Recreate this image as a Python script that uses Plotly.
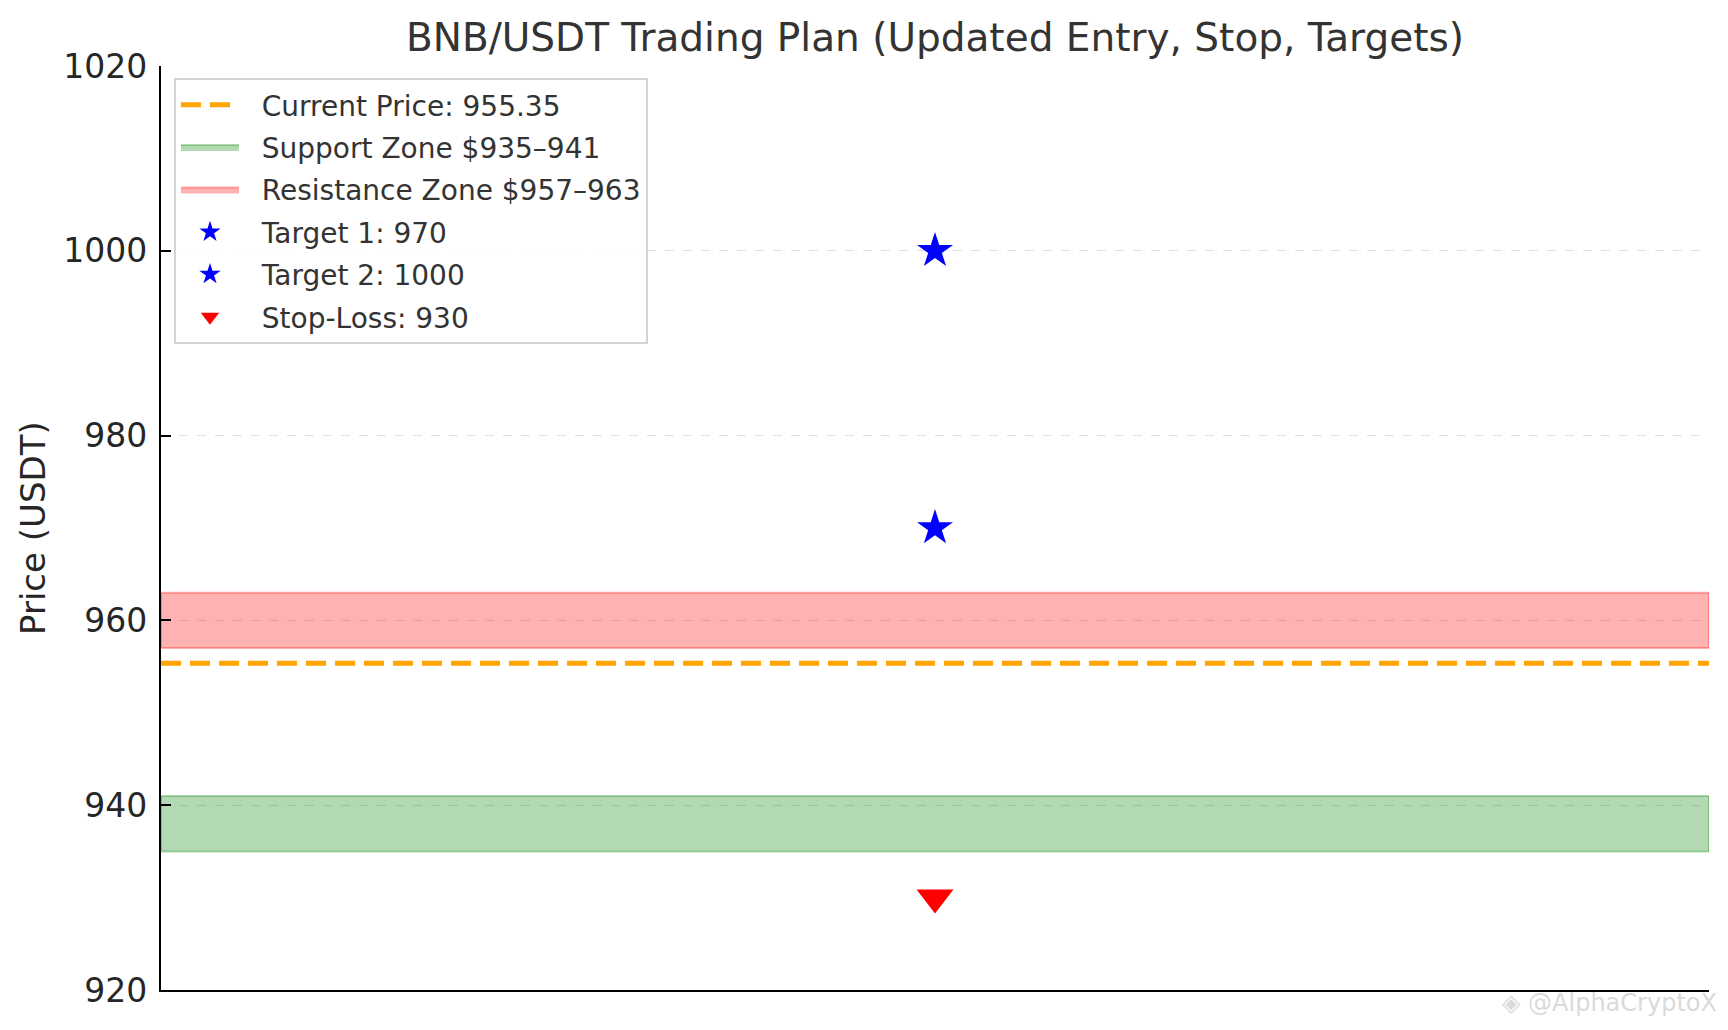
import plotly.graph_objects as go

# ---- data ----
current_price = 955.35
support_zone = [935, 941]
resistance_zone = [957, 963]
target_names = ["Target 1: 970", "Target 2: 1000"]
target_values = [970, 1000]
stop_loss = 930
y_ticks = [920, 940, 960, 980, 1000, 1020]

# figure sized to fit the page (browser adds an 8px body margin)
W, H = 1720, 1022
L, R, T, B = 153, 19, 58, 40
PW, PH = W - L - R, H - T - B
TXT = "#262626"
FONT = "DejaVu Sans"
PAD = "\u00a0\u00a0"  # spacing between legend glyph and text

fig = go.Figure()

# current price line
fig.add_trace(go.Scatter(
    x=[-1, 1], y=[current_price, current_price], mode="lines",
    line=dict(color="#FFA500", width=5, dash="20px,9px"),
    name=PAD + f"Current Price: {current_price}", legendgroup="g1"))

# support zone
fig.add_trace(go.Scatter(
    x=[-1, 1, 1, -1, -1],
    y=[support_zone[0], support_zone[0], support_zone[1], support_zone[1], support_zone[0]],
    mode="lines", fill="toself", fillcolor="rgba(0,128,0,0.3)",
    line=dict(color="rgba(0,128,0,0.3)", width=2),
    name=PAD + f"Support Zone ${support_zone[0]}–{support_zone[1]}", legendgroup="g2"))

# resistance zone
fig.add_trace(go.Scatter(
    x=[-1, 1, 1, -1, -1],
    y=[resistance_zone[0], resistance_zone[0], resistance_zone[1], resistance_zone[1], resistance_zone[0]],
    mode="lines", fill="toself", fillcolor="rgba(255,0,0,0.3)",
    line=dict(color="rgba(255,0,0,0.3)", width=2),
    name=PAD + f"Resistance Zone ${resistance_zone[0]}–{resistance_zone[1]}", legendgroup="g3"))

# targets
for i, (nm, v) in enumerate(zip(target_names, target_values)):
    fig.add_trace(go.Scatter(
        x=[0], y=[v], mode="markers",
        marker=dict(symbol="star", size=27, color="#0000FF"),
        name=PAD + nm, legendgroup=f"t{i}"))

# stop loss
fig.add_trace(go.Scatter(
    x=[0], y=[stop_loss], mode="markers",
    marker=dict(symbol="triangle-down", size=32, color="#FF0000"),
    name=PAD + f"Stop-Loss: {stop_loss}", legendgroup="sl"))

fig.update_layout(
    width=W, height=H,
    margin=dict(l=L, r=R, t=T, b=B, autoexpand=False),
    plot_bgcolor="white", paper_bgcolor="white",
    font=dict(family=FONT, color=TXT),
    title=dict(text="BNB/USDT Trading Plan (Updated Entry, Stop, Targets)",
               x=0.5, xref="paper", xanchor="center",
               y=1 - 29 / H, yref="container", yanchor="middle",
               font=dict(size=39, color="#333333", family=FONT)),
    showlegend=True,
    legend=dict(x=13 / PW, y=1 - 12 / PH, xanchor="left", yanchor="top",
                bgcolor="rgba(255,255,255,0.85)", bordercolor="#d4d4d4", borderwidth=2,
                font=dict(size=28, color="#333333", family=FONT),
                itemwidth=58, traceorder="grouped", tracegroupgap=3),
    xaxis=dict(range=[-1, 1], showgrid=False, zeroline=False, showticklabels=False,
               ticks="", showline=True, linecolor="black", linewidth=2.2, mirror=False),
    yaxis=dict(range=[920, 1020], tickvals=y_ticks, zeroline=False,
               showgrid=True, gridcolor="rgba(0,0,0,0.12)", griddash="dash", gridwidth=1,
               showline=True, linecolor="black", linewidth=2.2,
               ticks="inside", ticklen=10, tickwidth=2.2, tickcolor="black",
               ticklabelstandoff=5,
               tickfont=dict(size=33, color=TXT, family=FONT)),
    annotations=[
        dict(text="Price (USDT)", textangle=-90, x=(25 - L) / PW, xref="paper",
             y=0.5, yref="paper", xanchor="center", yanchor="middle", showarrow=False,
             font=dict(size=34, color=TXT, family=FONT)),
        dict(text="◈ @AlphaCryptoX", x=(1711 - L) / PW, y=(H - 995 - B) / PH,
             xref="paper", yref="paper",
             showarrow=False, font=dict(size=24, color="#dadada", family=FONT),
             xanchor="right", yanchor="middle"),
    ],
)

fig.write_html("out.html")
